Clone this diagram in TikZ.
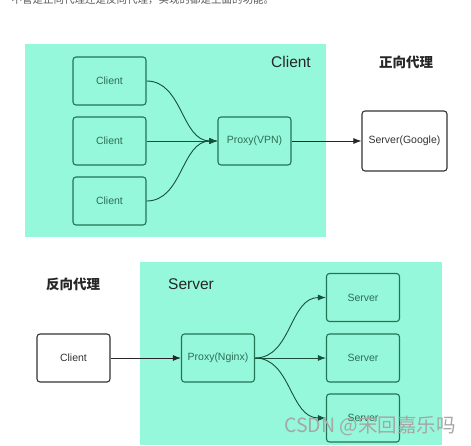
\documentclass[tikz,border=0pt]{standalone}
\usepackage{fontspec}
\setmainfont{Liberation Sans}
\newfontfamily\cjk{Noto Sans CJK SC}
\usetikzlibrary{arrows.meta}
\definecolor{panelgreen}{RGB}{150,248,218}
\definecolor{edgegreen}{RGB}{35,115,85}
\definecolor{textgreen}{RGB}{45,110,85}
\begin{document}
\begin{tikzpicture}[x=1pt,y=-1pt,
  box/.style={draw=edgegreen,line width=1.1pt,rounded corners=3pt,minimum width=73pt,minimum height=48pt,inner sep=0pt,font=\fontsize{10.5}{12}\selectfont,text=textgreen},
  plainbox/.style={box,draw=black!80,fill=white,text=black!80},
  link/.style={draw=edgegreen!70!black,line width=0.9pt,-{Latex[length=8pt,width=6pt]}},
  title/.style={font=\fontsize{15.5}{18}\selectfont,text=black!85},
  cjktitle/.style={font=\cjk\bfseries\fontsize{13.5}{16}\selectfont,text=black!85}]
\useasboundingbox (0,0) rectangle (471,445);
\fill[white] (0,0) rectangle (471,445);
\node[anchor=base west,font=\cjk\fontsize{10.5}{12}\selectfont,text=black!65] (note) at (8,3) {不管是正向代理还是反向代理，实现的都是上面的功能。};

\fill[panelgreen] (25,44) rectangle (326,237);
\fill[panelgreen] (140,262) rectangle (442,445);

\node[title] (clienttitle) at (291,62) {Client};
\node[cjktitle] (forward) at (406,62) {正向代理};
\node[box] (c1) at (109.5,81) {Client};
\node[box] (c2) at (109.5,141) {Client};
\node[box] (c3) at (109.5,201) {Client};
\node[box] (vpn) at (254.5,141) {Proxy(VPN)};
\node[plainbox,minimum width=85pt,minimum height=60pt] (google) at (404.5,141) {Server(Google)};

\draw[link] (c1.east) to[out=0,in=180] (vpn.west);
\draw[link] (c2.east) -- (vpn.west);
\draw[link] (c3.east) to[out=0,in=180] (vpn.west);
\draw[link,draw=black!85] (vpn.east) -- (google.west);

\node[title] (servertitle) at (191,284) {Server};
\node[cjktitle] (reverse) at (73,284) {反向代理};
\node[plainbox] (client) at (73.5,358) {Client};
\node[box] (nginx) at (218,358) {Proxy(Nginx)};
\node[box] (s1) at (363,297.5) {Server};
\node[box] (s2) at (363,358) {Server};
\node[box] (s3) at (363,418) {Server};

\draw[link,draw=black!85] (client.east) -- (nginx.west);
\draw[link] (nginx.east) to[out=0,in=180] (s1.west);
\draw[link] (nginx.east) -- (s2.west);
\draw[link] (nginx.east) to[out=0,in=180] (s3.west);

\node[font=\cjk\fontsize{19.5}{22}\selectfont,text=black!35] (mark) at (370,426) {CSDN @宋回嘉乐吗};
\end{tikzpicture}
\end{document}
